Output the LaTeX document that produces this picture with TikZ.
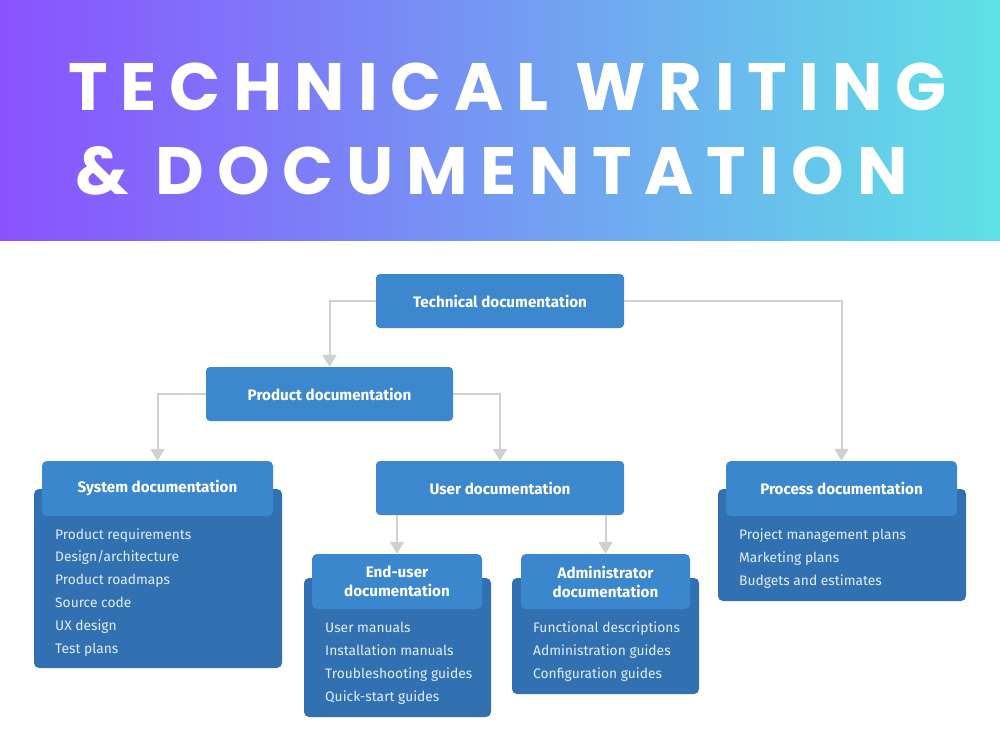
\documentclass[tikz,border=0pt]{standalone}
\usepackage{fontspec}
\setmainfont{Fira Sans}
\newfontfamily\titlefont[LetterSpace=19]{Poppins}
\usetikzlibrary{positioning,arrows.meta}
\definecolor{HeadPurple}{HTML}{8A52FF}
\definecolor{HeadCyan}{HTML}{5EE1E6}
\definecolor{BoxBlue}{HTML}{3D87CE}
\definecolor{CardBlue}{HTML}{3B87CD}
\definecolor{BodyBlue}{HTML}{3271B1}
\definecolor{LinkGray}{HTML}{D0D0D0}
\definecolor{ItemWhite}{HTML}{E2ECF6}
\begin{document}
\begin{tikzpicture}[x=1pt, y=-1pt,
        topic/.style={fill=BoxBlue, rounded corners=4pt, minimum width=248pt,
                      minimum height=54pt, inner sep=0pt, text=white,
                      font=\bfseries\fontsize{15.2}{18}\selectfont},
        card/.style={fill=CardBlue, rounded corners=5pt, minimum height=55pt,
                     inner sep=0pt, text=white, align=center,
                     font=\bfseries\fontsize{15.2}{19}\selectfont},
        body/.style={fill=BodyBlue, rounded corners=5pt, inner sep=0pt},
        item/.style={anchor=base west, inner sep=0pt, text=ItemWhite,
                     font=\fontsize{13.8}{16}\selectfont},
        link/.style={draw=LinkGray, line width=2pt,
                     -{Triangle[width=14pt, length=12pt]}},
      ]
      \useasboundingbox (0,0) rectangle (1000,750);
      % banner
      \shade[left color=HeadPurple, right color=HeadCyan] (0,0) rectangle (1000,240);
      \node[anchor=base west, inner sep=0pt, text=white,
            font=\titlefont\bfseries\fontsize{67}{67}\selectfont]
            (title1) at (68,110) {TECHNICAL WRITING};
      \node[anchor=base west, inner sep=0pt, text=white,
            font=\titlefont\bfseries\fontsize{67}{67}\selectfont]
            (title2) at (75,194) {\& DOCUMENTATION};

      % tree
      \node[topic] (tech) at (500,301) {Technical documentation};
      \node[topic, minimum width=247pt] (prod) at (329.5,394) {Product documentation};
      \node[topic] (user) at (500,488) {User documentation};

      \node[body, minimum width=248pt, minimum height=179pt] (sysbody) at (158,578.5) {};
      \node[card, minimum width=231pt] (sys) at (157.5,488.5) {System documentation};
      \node[body, minimum width=187pt, minimum height=139pt] (endbody) at (397.5,647.5) {};
      \node[card, minimum width=170pt] (enduser) at (397,581.5) {End-user\\documentation};
      \node[body, minimum width=187pt, minimum height=116pt] (adminbody) at (605.5,636) {};
      \node[card, minimum width=169pt] (admin) at (605.5,581.5) {Administrator\\documentation};
      \node[body, minimum width=248pt, minimum height=112pt] (procbody) at (842,545) {};
      \node[card, minimum width=231pt] (proc) at (841.5,488.5) {Process documentation};

      % items
      \foreach \txt [count=\i] in {Product requirements, Design/architecture,
            Product roadmaps, Source code, UX design, Test plans}
        \node[item] (sys-\i) at (55,{539+22.8*(\i-1)}) {\txt};
      \foreach \txt [count=\i] in {User manuals, Installation manuals,
            Troubleshooting guides, Quick-start guides}
        \node[item] (end-\i) at (325,{632+23*(\i-1)}) {\txt};
      \foreach \txt [count=\i] in {Functional descriptions, Administration guides,
            Configuration guides}
        \node[item] (admin-\i) at (533,{632+23*(\i-1)}) {\txt};
      \foreach \txt [count=\i] in {Project management plans, Marketing plans,
            Budgets and estimates}
        \node[item] (proc-\i) at (739,{539+23*(\i-1)}) {\txt};

      % connectors
      \draw[link] (tech.west) -| (prod.north);
      \draw[link] (tech.east) -| (proc.north);
      \draw[link] (prod.west) -| (sys.north);
      \draw[link] (prod.east) -| (user.north);
      \draw[link] (enduser.north |- user.south) -- (enduser.north);
      \draw[link] (admin.north |- user.south) -- (admin.north);
    \end{tikzpicture}
\end{document}
